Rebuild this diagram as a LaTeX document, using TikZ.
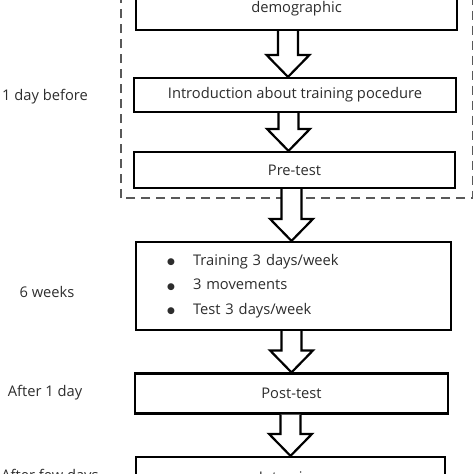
\documentclass[tikz,border=0pt]{standalone}
\usepackage{fontspec}
\setmainfont{Open Sans}
\newfontfamily\symfont{DejaVu Sans}
\usetikzlibrary{calc,positioning}
\definecolor{inkgray}{RGB}{45,45,45}
\newcommand{\dotitem}{\makebox[26pt][l]{\symfont\fontsize{9}{9}\selectfont\raisebox{0.5pt}{●}}}

\begin{document}
\begin{tikzpicture}[x=1pt, y=1pt]
  \tikzset{
    stage/.style={draw=black,line width=2.2pt,fill=white,font=\fontsize{14.7}{17}\selectfont,
                  text=inkgray,inner sep=0pt},
    when/.style={font=\fontsize{14.7}{17}\selectfont,text=inkgray},
    fatarrow/.style={draw=black,line width=2.2pt,fill=white,line join=miter}
  }
  \useasboundingbox (0,-474) rectangle (474,0);
  \clip (0,-474) rectangle (474,0);
  % phase before training
  \draw[black!65,line width=1.4pt,dash pattern=on 9pt off 6pt] (121,-198) rectangle (472.5,20);
  \node[stage,minimum width=321pt,minimum height=42pt] (demo) at (296.5,-9) {demographic};
  \node[stage,minimum width=322pt,minimum height=34pt] (intro) at (295,-95)
    {Introduction about training pocedure};
  \node[stage,minimum width=321pt,minimum height=36pt] (pre) at (294.5,-170) {Pre-test};
  % training period
  \node[stage,minimum width=315pt,minimum height=88pt,text width=253pt,align=left,
        font=\fontsize{14.7}{24.5}\selectfont] (train) at (293.5,-286)
    {\dotitem Training 3 days/week\\
     \dotitem 3 movements\\
     \dotitem Test 3 days/week};
  \node[stage,minimum width=313pt,minimum height=40pt] (post) at (291.5,-393.5) {Post-test};
  \node[stage,minimum width=309pt,minimum height=40pt] (interview) at (290.5,-477) {Interview};
  % time labels
  \node[when] (t1) at (45,-97) {1 day before};
  \node[when] (t2) at (47,-292) {6 weeks};
  \node[when] (t3) at (45,-393) {After 1 day};
  \node[when] (t4) at (50,-477) {After few days};
  % block arrows
  \foreach \a/\b/\dx in {demo/intro/7,intro/pre/6,pre/train/2,train/post/0,post/interview/0}{
    \coordinate (tip) at ($(\b.north)+(-\dx,0)$);
    \coordinate (top) at (tip |- \a.south);
    \draw[fatarrow] ($(top)+(-10,0)$) -- ($(tip)+(-10,22)$) -- ++(-11.5,0) -- (tip)
      -- ($(tip)+(21.5,22)$) -- ++(-11.5,0) -- ($(top)+(10,0)$);
  }
\end{tikzpicture}
\end{document}
